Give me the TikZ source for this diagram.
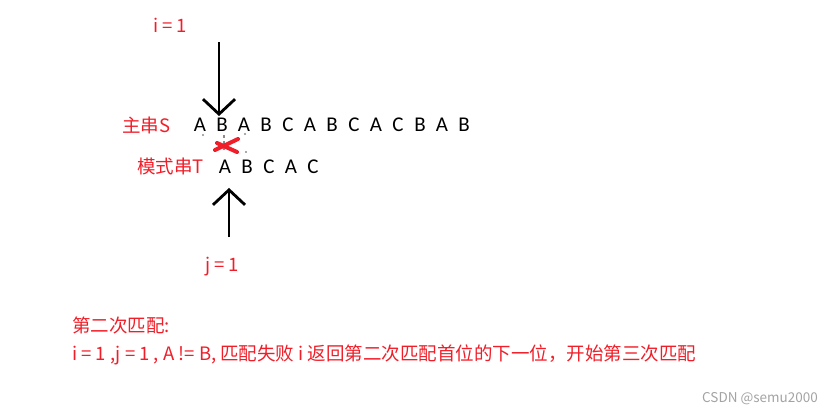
\documentclass[tikz,border=0pt]{standalone}
\usepackage{fontspec}
\setmainfont{Carlito}
\newfontfamily\cjk{Noto Sans CJK SC}
\usetikzlibrary{positioning, arrows.meta}
\definecolor{markred}{RGB}{240,30,40}
\definecolor{scribble}{RGB}{140,140,140}

\begin{document}
\begin{tikzpicture}[x=1pt, y=-1pt,
    letter/.style={font=\fontsize{21}{23}\selectfont, inner sep=2pt},
    note/.style={text=markred, font=\cjk\fontsize{18.5}{21}\selectfont, inner sep=0pt},
    pointer/.style={line width=2.8pt, -{Straight Barb[length=15pt, width=32pt, line width=2.8pt]}}]
    \useasboundingbox (0,0) rectangle (833,415);

    % main string S
    \node[note, anchor=west] (slabel) at (122,125) {主串S};
    \foreach \c [count=\k] in {A,B,A,B,C,A,B,C,A,C,B,A,B} {
        \node[letter] (s\k) at ({178+22*\k},125) {\c};
    }

    % pattern T
    \node[note, anchor=west] (tlabel) at (137,166) {模式串T};
    \foreach \c [count=\k] in {A,B,C,A,C} {
        \node[letter] (t\k) at ({203+22*\k},167) {\c};
    }

    % pointers i and j
    \node[note] (ilabel) at (170,25) {i = 1};
    \coordinate (itop) at (219,42);
    \draw[pointer] (itop) -- (itop |- s2.north);

    \node[note] (jlabel) at (222,267) {j = 1};
    \coordinate (jbot) at (229,237);
    \draw[pointer, shorten >=12pt] (jbot) -- (jbot |- t1.south);

    % mismatch mark
    \draw[scribble, line width=1.5pt, dash pattern=on 3pt off 3pt] (224,135) -- (224,153);
    \foreach \p in {(203,135),(245,134),(246,152)} {
        \fill[scribble] \p circle (1.2pt);
    }
    \draw[markred, line width=4pt, line cap=round] (215,150) -- (238,139);
    \draw[markred, line width=4pt, line cap=round] (217,143) -- (237,152);

    % explanation
    \node[note, anchor=west] (title) at (72,325) {第二次匹配:};
    \node[note, anchor=west] (detail) at (72,355) {i = 1 ,j = 1 , A != B, 匹配失败 i 返回第二次匹配首位的下一位，开始第三次匹配};

    \node[text=scribble!80, font=\cjk\fontsize{13.5}{15}\selectfont, anchor=east, inner sep=0pt] (mark) at (818,399) {CSDN @semu2000};
\end{tikzpicture}
\end{document}
